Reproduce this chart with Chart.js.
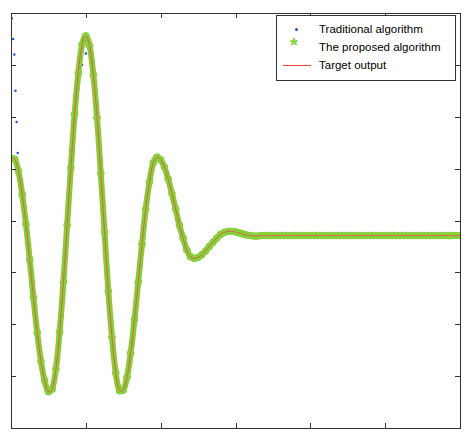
<!DOCTYPE html>
<html><head><meta charset="utf-8">
<script src="https://cdn.jsdelivr.net/npm/chart.js@4/dist/chart.umd.min.js"></script>
<style>
body{margin:0;background:#fff;}
#wrap{position:relative;width:474px;height:439px;}
#legend{position:absolute;left:276px;top:15px;width:180px;height:66px;border:1px solid #333;background:#fff;font-family:"Liberation Sans",Arial,sans-serif;font-size:11.5px;color:#000;box-sizing:border-box;}
.row{position:absolute;left:0;height:16px;line-height:16px;}
.lbl{position:absolute;left:42px;white-space:nowrap;}
</style></head><body>
<div id="wrap"><canvas id="c" width="474" height="439"></canvas>
<div id="legend">
 <div class="row" style="top:5px"><span style="position:absolute;left:18px;top:7px;width:3px;height:3px;background:#1f4fd0;border-radius:50%"></span><span class="lbl">Traditional algorithm</span></div>
 <div class="row" style="top:23px"><span style="position:absolute;left:13px;top:-2px;color:#7fd43a;font-size:20px;font-weight:bold">*</span><span class="lbl">The proposed algorithm</span></div>
 <div class="row" style="top:41px"><span style="position:absolute;left:6px;top:8px;width:28px;height:1px;background:#e8433a"></span><span class="lbl">Target output</span></div>
</div></div>
<script>
const xStep = 0.05;
const targetValues = [5.20,5.18,4.95,4.50,3.93,3.25,2.52,1.84,1.29,0.91,0.70,
0.75,1.14,1.85,2.81,3.91,5.02,6.05,6.84,7.39,7.56,
7.37,6.81,5.98,4.91,3.78,2.64,1.75,1.06,0.72,
0.73,0.98,1.45,2.09,2.81,3.54,4.22,4.74,5.11,5.22,
5.17,5.03,4.80,4.52,4.22,3.91,3.66,3.43,3.30,
3.27,3.29,3.34,3.41,3.50,3.58,3.66,3.73,3.77,3.79,
3.79,3.78,3.76,3.74,3.72,3.71,3.70,3.70,
3.71,3.71,3.71,3.71,3.71,3.71,3.71,3.71,3.71,3.71,
3.71,3.71,3.71,3.71,3.71,3.71,3.71,3.71,3.71,3.71,
3.71,3.71,3.71,3.71,3.71,3.71,3.71,3.71,3.71,3.71,
3.71,3.71,3.71,3.71,3.71,3.71,3.71,3.71,3.71,3.71,
3.71,3.71,3.71,3.71,3.71,3.71,3.71,3.71,3.71,3.71,
3.71,3.71,3.71,3.71];
const tradStartX = [0.01,0.03,0.045,0.06,0.075,0.09];
const tradStartY = [7.9,7.5,7.2,6.5,5.9,5.3];
const tradPeakX = [0.85,0.9,0.95,1.0,1.05,1.1,1.15,1.2,1.25];
const tradPeakY = [5.9,6.55,7.0,7.22,7.25,6.95,6.3,5.45,4.3];
const xTicks = [0,1,2,3,4,5,6];
const yTicks = [0,1,2,3,4,5,6,7,8];

const target = targetValues.map((v,i)=>({x:+(i*xStep).toFixed(2),y:v}));
const trad = tradStartX.map((x,i)=>({x,y:tradStartY[i]}));
target.forEach(p=>{ if(p.x>=0.1 && (p.x<0.85 || p.x>1.25)) trad.push({x:p.x+0.025,y:p.y}); });
tradPeakX.forEach((x,i)=>trad.push({x,y:tradPeakY[i]}));

const frame = {id:'frame',afterDraw(ch){
 const {ctx,chartArea:a,scales:{x,y}}=ch;
 ctx.save();ctx.strokeStyle='#333';ctx.lineWidth=1;
 ctx.strokeRect(a.left+0.5,a.top+0.5,a.right-a.left,a.bottom-a.top);
 ctx.beginPath();
 xTicks.slice(1,-1).forEach(v=>{const px=Math.round(x.getPixelForValue(v))+0.5;ctx.moveTo(px,a.bottom);ctx.lineTo(px,a.bottom-5);ctx.moveTo(px,a.top);ctx.lineTo(px,a.top+5);});
 yTicks.slice(1,-1).forEach(v=>{const py=Math.round(y.getPixelForValue(v))+0.5;ctx.moveTo(a.left,py);ctx.lineTo(a.left+5,py);ctx.moveTo(a.right,py);ctx.lineTo(a.right-5,py);});
 ctx.stroke();ctx.restore();}};

new Chart(document.getElementById('c'),{
 type:'scatter',
 data:{datasets:[
  {label:'Traditional algorithm',data:trad,showLine:false,pointRadius:1.2,pointBackgroundColor:'#1f4fd0',pointBorderWidth:0,order:4},
  {label:'The proposed algorithm',data:target,showLine:true,borderColor:'#86cc36',borderWidth:6,tension:0.4,pointRadius:3.4,pointBackgroundColor:'#8ccf3a',pointBorderColor:'#7fd43a',pointBorderWidth:1,order:2},
  {label:'Target output',data:target,showLine:true,borderColor:'#e0604a',borderWidth:1,pointRadius:0,tension:0.4,order:1}
 ]},
 options:{responsive:false,animation:false,
  layout:{padding:{left:11,top:13,right:14,bottom:11}},
  plugins:{legend:{display:false},tooltip:{enabled:false}},
  scales:{x:{type:'linear',min:0,max:6,display:false},y:{min:0,max:8,display:false}}},
 plugins:[frame]});
</script></body></html>
